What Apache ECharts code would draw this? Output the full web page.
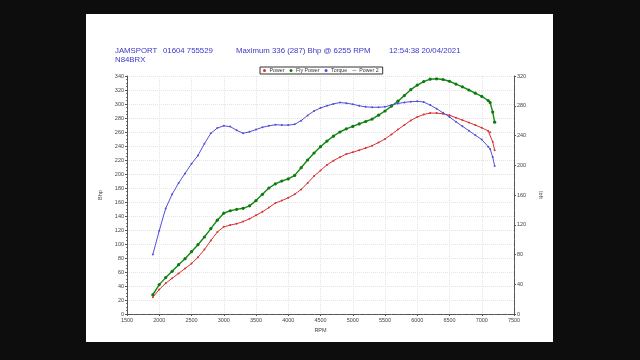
<!DOCTYPE html>
<html>
<head>
<meta charset="utf-8">
<script src="https://cdn.jsdelivr.net/npm/echarts@6/dist/echarts.min.js"></script>
<style>
html,body{margin:0;padding:0;background:#0d0d0d;width:640px;height:360px;overflow:hidden;}
#page{position:absolute;left:86px;top:14px;width:467px;height:328px;background:#fff;}
#chart{position:absolute;left:0;top:0;width:640px;height:360px;}
</style>
</head>
<body>
<div id="page"></div>
<div id="chart"></div>
<script>
const rpm = [1900,2000,2100,2200,2300,2400,2500,2600,2700,2800,2900,3000,3100,3200,3300,3400,3500,3600,3700,3800,3900,4000,4100,4200,4300,4400,4500,4600,4700,4800,4900,5000,5100,5200,5300,5400,5500,5600,5700,5800,5900,6000,6100,6200,6300,6400,6500,6600,6700,6800,6900,7000,7100,7130,7170,7200];
const power = [24,35,44,51,58,65,72,81,92,105,117,124.5,127,129,132,136,141,146,152,158.5,162,166,171,178,187,197,205,213,219,224,228.5,231,234,237,240.5,245,250,256.5,263.5,270,276.5,281.5,285,287,287,286,284,280.5,277,273.5,270,266,261.5,259.5,246,234];
const flyPower = [27.5,42,52,61,70.5,79,89,99,110,122,134,144,147.5,149.5,151,154.5,162,171,180,186,190,193,198,209,220,230,239,247,254,260,264.5,268,271.5,275,278.5,284,290,297,304,312,320.5,327,332,335.5,336,335,332.5,328.5,324.5,320,315.5,311,305,302,288.5,274];
const torque = [80,112,142,161,176,189,202,213,229,243,250,253,252,247,243,245,248,251,253,254.5,254,254,255,260,267,273,277,280,282.5,284.3,283.5,282,280,278.5,278,278,278.5,281,283,284.5,285.5,286,285,281,276,270.5,265,258.5,252.5,246.5,240.5,234.5,225,222,211,199];
const power2 = [];
const legendNames = ['Power','Fly Power','Torque','Power 2'];
const headerTexts = ['JAMSPORT','01604 755529','Maximum 336 (287) Bhp @ 6255 RPM','12:54:38 20/04/2021','N84BRX'];

const pairs = (ys) => ys.map((v,i)=>[rpm[i], v]);
const blue = '#3838c8';
const chart = echarts.init(document.getElementById('chart'), null, {renderer:'canvas'});
const ts = {color: blue, fontSize: 7.8, fontWeight: 'normal', fontFamily: 'Liberation Sans, Arial, sans-serif'};
const plain = (v) => String(v);
chart.setOption({
  backgroundColor: 'transparent',
  animation: false,
  title: [
    {text: headerTexts[0], left: 115, top: 47, textStyle: ts, padding: 0},
    {text: headerTexts[1], left: 163, top: 47, textStyle: ts, padding: 0},
    {text: headerTexts[2], left: 236, top: 47, textStyle: ts, padding: 0},
    {text: headerTexts[3], left: 389, top: 47, textStyle: ts, padding: 0},
    {text: headerTexts[4], left: 115, top: 56, textStyle: ts, padding: 0}
  ],
  legend: {
    data: [
      {name: legendNames[0], icon: 'circle'},
      {name: legendNames[1], icon: 'circle'},
      {name: legendNames[2], icon: 'circle'},
      {name: legendNames[3], icon: 'path://M0,4 L10,4 L10,6 L0,6 Z'}
    ],
    left: 260, top: 67,
    itemWidth: 4, itemHeight: 3, itemGap: 5,
    padding: [1, 4, 1, 3],
    borderColor: '#333', borderWidth: 1,
    backgroundColor: '#fff',
    textStyle: {fontSize: 5.3, color: '#333', fontFamily: 'Liberation Sans, Arial, sans-serif', padding: [0,0,0,-2]}
  },
  grid: {left: 127, right: 126, top: 76, bottom: 46},
  xAxis: {
    type: 'value', min: 1500, max: 7500, interval: 500,
    name: 'RPM', nameLocation: 'middle', nameGap: 11,
    nameTextStyle: {fontSize: 5.5, color: '#444'},
    axisLine: {onZero: false, lineStyle: {color: '#555'}},
    axisTick: {length: 2, lineStyle: {color: '#555'}},
    minorTick: {show: true, splitNumber: 5, length: 1, lineStyle: {color: '#777'}},
    axisLabel: {fontSize: 5.5, color: '#444', margin: 3, formatter: plain},
    splitLine: {show: true, lineStyle: {color: '#e4e4e4', type: 'dotted', width: 1}}
  },
  yAxis: [
    {
      type: 'value', min: 0, max: 340, interval: 20, position: 'left',
      name: 'Bhp', nameLocation: 'middle', nameGap: 14, nameRotate: 90,
      nameTextStyle: {fontSize: 5.5, color: '#444'},
      axisLine: {show: true, lineStyle: {color: '#555'}},
      axisTick: {show: true, length: 2, lineStyle: {color: '#555'}},
      minorTick: {show: true, splitNumber: 4, length: 1, lineStyle: {color: '#777'}},
      axisLabel: {fontSize: 5.5, color: '#444', margin: 3, formatter: plain},
      splitLine: {show: true, lineStyle: {color: '#e4e4e4', type: 'dotted', width: 1}}
    },
    {
      type: 'value', min: 0, max: 320, interval: 40, position: 'right',
      name: 'lbft', nameLocation: 'middle', nameGap: 14, nameRotate: -90,
      nameTextStyle: {fontSize: 5.5, color: '#444'},
      axisLine: {show: true, lineStyle: {color: '#555'}},
      axisTick: {show: true, length: 2, lineStyle: {color: '#555'}},
      minorTick: {show: true, splitNumber: 4, length: 1, lineStyle: {color: '#777'}},
      axisLabel: {fontSize: 5.5, color: '#444', margin: 3, formatter: plain},
      splitLine: {show: false}
    }
  ],
  series: [
    {name: legendNames[0], type: 'line', yAxisIndex: 0, data: pairs(power),
     symbol: 'circle', symbolSize: 2, showSymbol: true,
     lineStyle: {color: '#d93030', width: 1}, itemStyle: {color: '#d93030'}},
    {name: legendNames[1], type: 'line', yAxisIndex: 0, data: pairs(flyPower),
     symbol: 'circle', symbolSize: 3.2, showSymbol: true,
     lineStyle: {color: '#138a13', width: 1.4}, itemStyle: {color: '#0f7a0f'}},
    {name: legendNames[2], type: 'line', yAxisIndex: 1, data: pairs(torque),
     symbol: 'circle', symbolSize: 2, showSymbol: true,
     lineStyle: {color: '#5050d8', width: 1}, itemStyle: {color: '#5050d8'}},
    {name: legendNames[3], type: 'line', yAxisIndex: 0, data: power2,
     symbol: 'none', lineStyle: {color: '#999', width: 1}, itemStyle: {color: '#999'}}
  ]
});
</script>
</body>
</html>
